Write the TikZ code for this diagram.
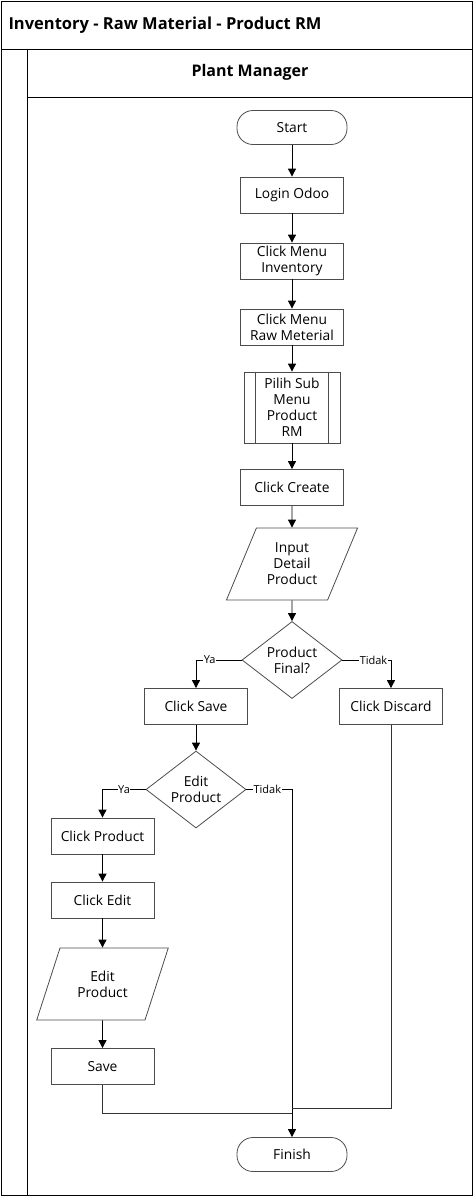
\documentclass[tikz,border=0pt]{standalone}
\usepackage{fontspec}
\setmainfont{Open Sans}
\usetikzlibrary{shapes}
\usetikzlibrary{arrows.meta}
\usetikzlibrary{positioning}

\begin{document}
\begin{tikzpicture}[
    x=1pt, y=-1pt,
    font=\fontsize{13.8}{16}\selectfont
]
\tikzset{
    myterm/.style = {rectangle, rounded corners=16pt, draw=black!70, line width=0.8pt, minimum width=110pt, minimum height=34pt, align=center},
    mystep/.style = {rectangle, draw=black!70, line width=0.8pt, minimum width=103pt, minimum height=36pt, inner sep=1pt, align=center},
    mysub/.style = {rectangle, draw=black!70, line width=0.8pt, minimum width=96pt, minimum height=71pt, inner sep=1pt, align=center},
    myio/.style = {trapezium, trapezium left angle=63.4, trapezium right angle=116.6, trapezium stretches=true, draw=black!70, line width=0.8pt, minimum width=132pt, minimum height=72pt, inner sep=1pt, align=center},
    mydec/.style = {diamond, draw=black!70, line width=0.8pt, minimum width=100pt, minimum height=74pt, inner sep=0pt, align=center},
    edgea/.style = {-{Triangle[length=8pt,width=8pt]}, line width=0.9pt, black},
    edgen/.style = {-, line width=0.9pt, black!80},
    lbl/.style = {fill=white, inner sep=0.5pt, font=\fontsize{11}{12}\selectfont}
}
\useasboundingbox (0,0) rectangle (474,1197);
% pool and lane
\draw[line width=1pt] (1,1) rectangle (472,1195);
\draw[line width=1pt] (1,49) -- (472,49);
\draw[line width=1pt] (27,49) -- (27,1195);
\draw[line width=1pt] (27,97) -- (472,97);
\node[anchor=west, font=\fontsize{16.5}{18}\selectfont\bfseries] at (5,25.5) (pool) {Inventory - Raw Material - Product RM};
\node[font=\fontsize{16}{18}\selectfont\bfseries] at (250,72.5) (lane) {Plant Manager};

% steps
\node[myterm] at (292,127.5) (start) {Start};
\node[mystep] at (292,195) (login) {Login Odoo};
\node[mystep] at (292,261) (menu) {Click Menu\\Inventory};
\node[mystep] at (292,327) (raw) {Click Menu\\Raw Meterial};
\node[mysub]  at (292,407.5) (sub) {Pilih Sub\\Menu\\Product\\RM};
\draw[black!70, line width=0.8pt] ([xshift=12pt]sub.north west) -- ([xshift=12pt]sub.south west);
\draw[black!70, line width=0.8pt] ([xshift=-12pt]sub.north east) -- ([xshift=-12pt]sub.south east);
\node[mystep] at (292,487.5) (create) {Click Create};
\node[myio]   at (292,564) (input) {Input\\Detail\\Product};
\node[mydec]  at (292,660) (final) {Product\\Final?};
\node[mystep] at (196,706.5) (save) {Click Save};
\node[mystep] at (391,706.5) (discard) {Click Discard};
\node[mydec]  at (196,789.5) (editq) {Edit\\Product};
\node[mystep] at (102.5,836) (product) {Click Product};
\node[mystep] at (102.5,900) (edit) {Click Edit};
\node[myio]   at (102.5,984) (editin) {Edit\\Product};
\node[mystep] at (102.5,1066.5) (save2) {Save};
\node[myterm] at (292,1154.5) (finish) {Finish};
\coordinate (j1) at (292,1113);
\coordinate (j2) at (292,1108);

% connectors
\draw[edgea] (start) -- (login);
\draw[edgea] (login) -- (menu);
\draw[edgea] (menu) -- (raw);
\draw[edgea] (raw) -- (sub);
\draw[edgea] (sub) -- (create);
\draw[edgea] (create) -- (input);
\draw[edgea] (input) -- (final);
\draw[edgea] (final.west) -| node[lbl, pos=0.35] {Ya} (save.north);
\draw[edgea] (final.east) -| node[lbl, pos=0.32] {Tidak} (discard.north);
\draw[edgea] (save) -- (editq);
\draw[edgea] (editq.west) -| node[lbl, pos=0.25] {Ya} (product.north);
\draw[edgea] (editq.east) -| node[lbl, pos=0.23] {Tidak} (finish.north);
\draw[edgea] (product) -- (edit);
\draw[edgea] (edit) -- (editin);
\draw[edgea] (editin) -- (save2);
\draw[edgen] (save2.south) |- (j1);
\draw[edgen] (discard.south) |- (j2);
\end{tikzpicture}
\end{document}
